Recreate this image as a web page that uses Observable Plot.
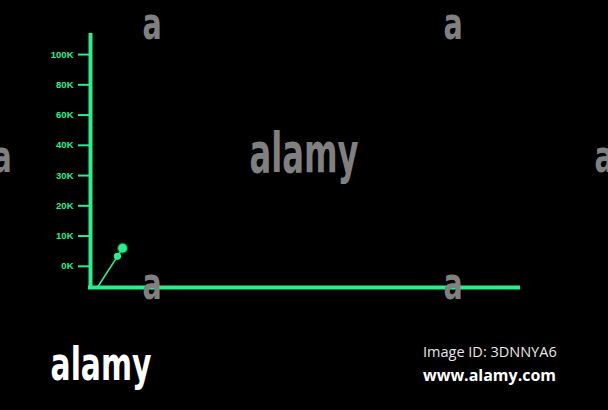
<!DOCTYPE html>
<html><head><meta charset="utf-8">
<script src="https://cdn.jsdelivr.net/npm/d3@7"></script>
<script src="https://cdn.jsdelivr.net/npm/@observablehq/plot@0.6"></script>
<style>
html,body{margin:0;padding:0;background:#000;width:608px;height:410px;overflow:hidden;}
#chart{position:absolute;left:0;top:0;}
#overlay{position:absolute;left:0;top:0;pointer-events:none;}
</style></head><body>
<div id="chart"></div>
<svg id="overlay" width="608" height="410" xmlns="http://www.w3.org/2000/svg"></svg>
<script>
// Data
const yTickValues = [0, 10000, 20000, 30000, 40000, 60000, 80000, 100000];
const yTickLabels = ["0K", "10K", "20K", "30K", "40K", "60K", "80K", "100K"];
const pointX = [1.6, 6.3, 7.5];
const pointY = [-7000, 3300, 6000];

const green = "#26ef8c";

// The axis places its labels evenly although the values are not evenly spaced:
// map each value to its position along the tick sequence (piecewise linear).
const tickIndex = d3.scaleLinear()
  .domain(yTickValues)
  .range(yTickValues.map((d, i) => i))
  .clamp(false);
const data = pointX.map((x, i) => ({x, y: tickIndex(pointY[i])}));
const yBottom = tickIndex(-7000);   // about -0.7
const yTop = 7.63;

const chart = Plot.plot({
  width: 608,
  height: 300,
  marginLeft: 90,
  marginRight: 90,
  marginTop: 35,
  marginBottom: 13,
  style: {background: "#000", fontFamily: "Liberation Sans, Arial, sans-serif"},
  x: {domain: [0, 100], axis: null},
  y: {domain: [yBottom, yTop], axis: null},
  marks: [
    Plot.axisY({
      ticks: yTickValues.map((d, i) => i),
      tickFormat: (i) => yTickLabels[i],
      tickSize: 12,
      tickPadding: 5,
      stroke: green,
      fill: green,
      strokeWidth: 2,
      fontSize: 9.5,
      fontWeight: "bold",
      label: null
    }),
    Plot.line(data, {x: "x", y: "y", stroke: green, strokeWidth: 1.6}),
    Plot.dot(data.slice(1, 2), {x: "x", y: "y", r: 3.6, fill: green, stroke: "none"}),
    Plot.dot(data.slice(2), {x: "x", y: "y", r: 4.4, fill: green, stroke: green, strokeOpacity: 0.35, strokeWidth: 2.5}),
    Plot.ruleX([0], {stroke: green, strokeWidth: 4, strokeLinecap: "square"}),
    Plot.ruleY([yBottom], {stroke: green, strokeWidth: 4, strokeLinecap: "square"})
  ]
});
document.getElementById("chart").appendChild(chart);

// Watermark / footer text
const wmFont = "'Liberation Sans Narrow', 'DejaVu Sans Condensed', 'Liberation Sans', sans-serif";
const overlay = d3.select("#overlay");
function wm(text, cx, baseline, size, sx, fill) {
  overlay.append("text")
    .attr("transform", `translate(${cx},${baseline}) scale(${sx},1)`)
    .attr("text-anchor", "middle")
    .attr("font-family", wmFont)
    .attr("font-weight", "bold")
    .attr("font-size", size)
    .attr("fill", fill)
    .text(text);
}
const gray = "#808080";
wm("a", 152, 39, 44, 0.72, gray);
wm("a", 453, 39, 44, 0.72, gray);
wm("a", 2, 172, 44, 0.72, gray);
wm("a", 604, 172, 44, 0.72, gray);
wm("a", 152, 299, 44, 0.72, gray);
wm("a", 453, 299, 44, 0.72, gray);
wm("alamy", 304, 172, 56, 0.64, gray);
wm("alamy", 101, 380, 46, 0.72, "#ffffff");

overlay.append("text")
  .attr("x", 423).attr("y", 357)
  .attr("font-family", "'Open Sans', 'Noto Sans', sans-serif")
  .attr("font-size", 14.5)
  .attr("fill", "#e8e8e8")
  .text("Image ID: 3DNNYA6");
overlay.append("text")
  .attr("x", 423).attr("y", 381)
  .attr("font-family", "'Open Sans', 'Noto Sans', sans-serif")
  .attr("font-size", 16)
  .attr("font-weight", "bold")
  .attr("fill", "#ffffff")
  .text("www.alamy.com");
</script>
</body></html>
